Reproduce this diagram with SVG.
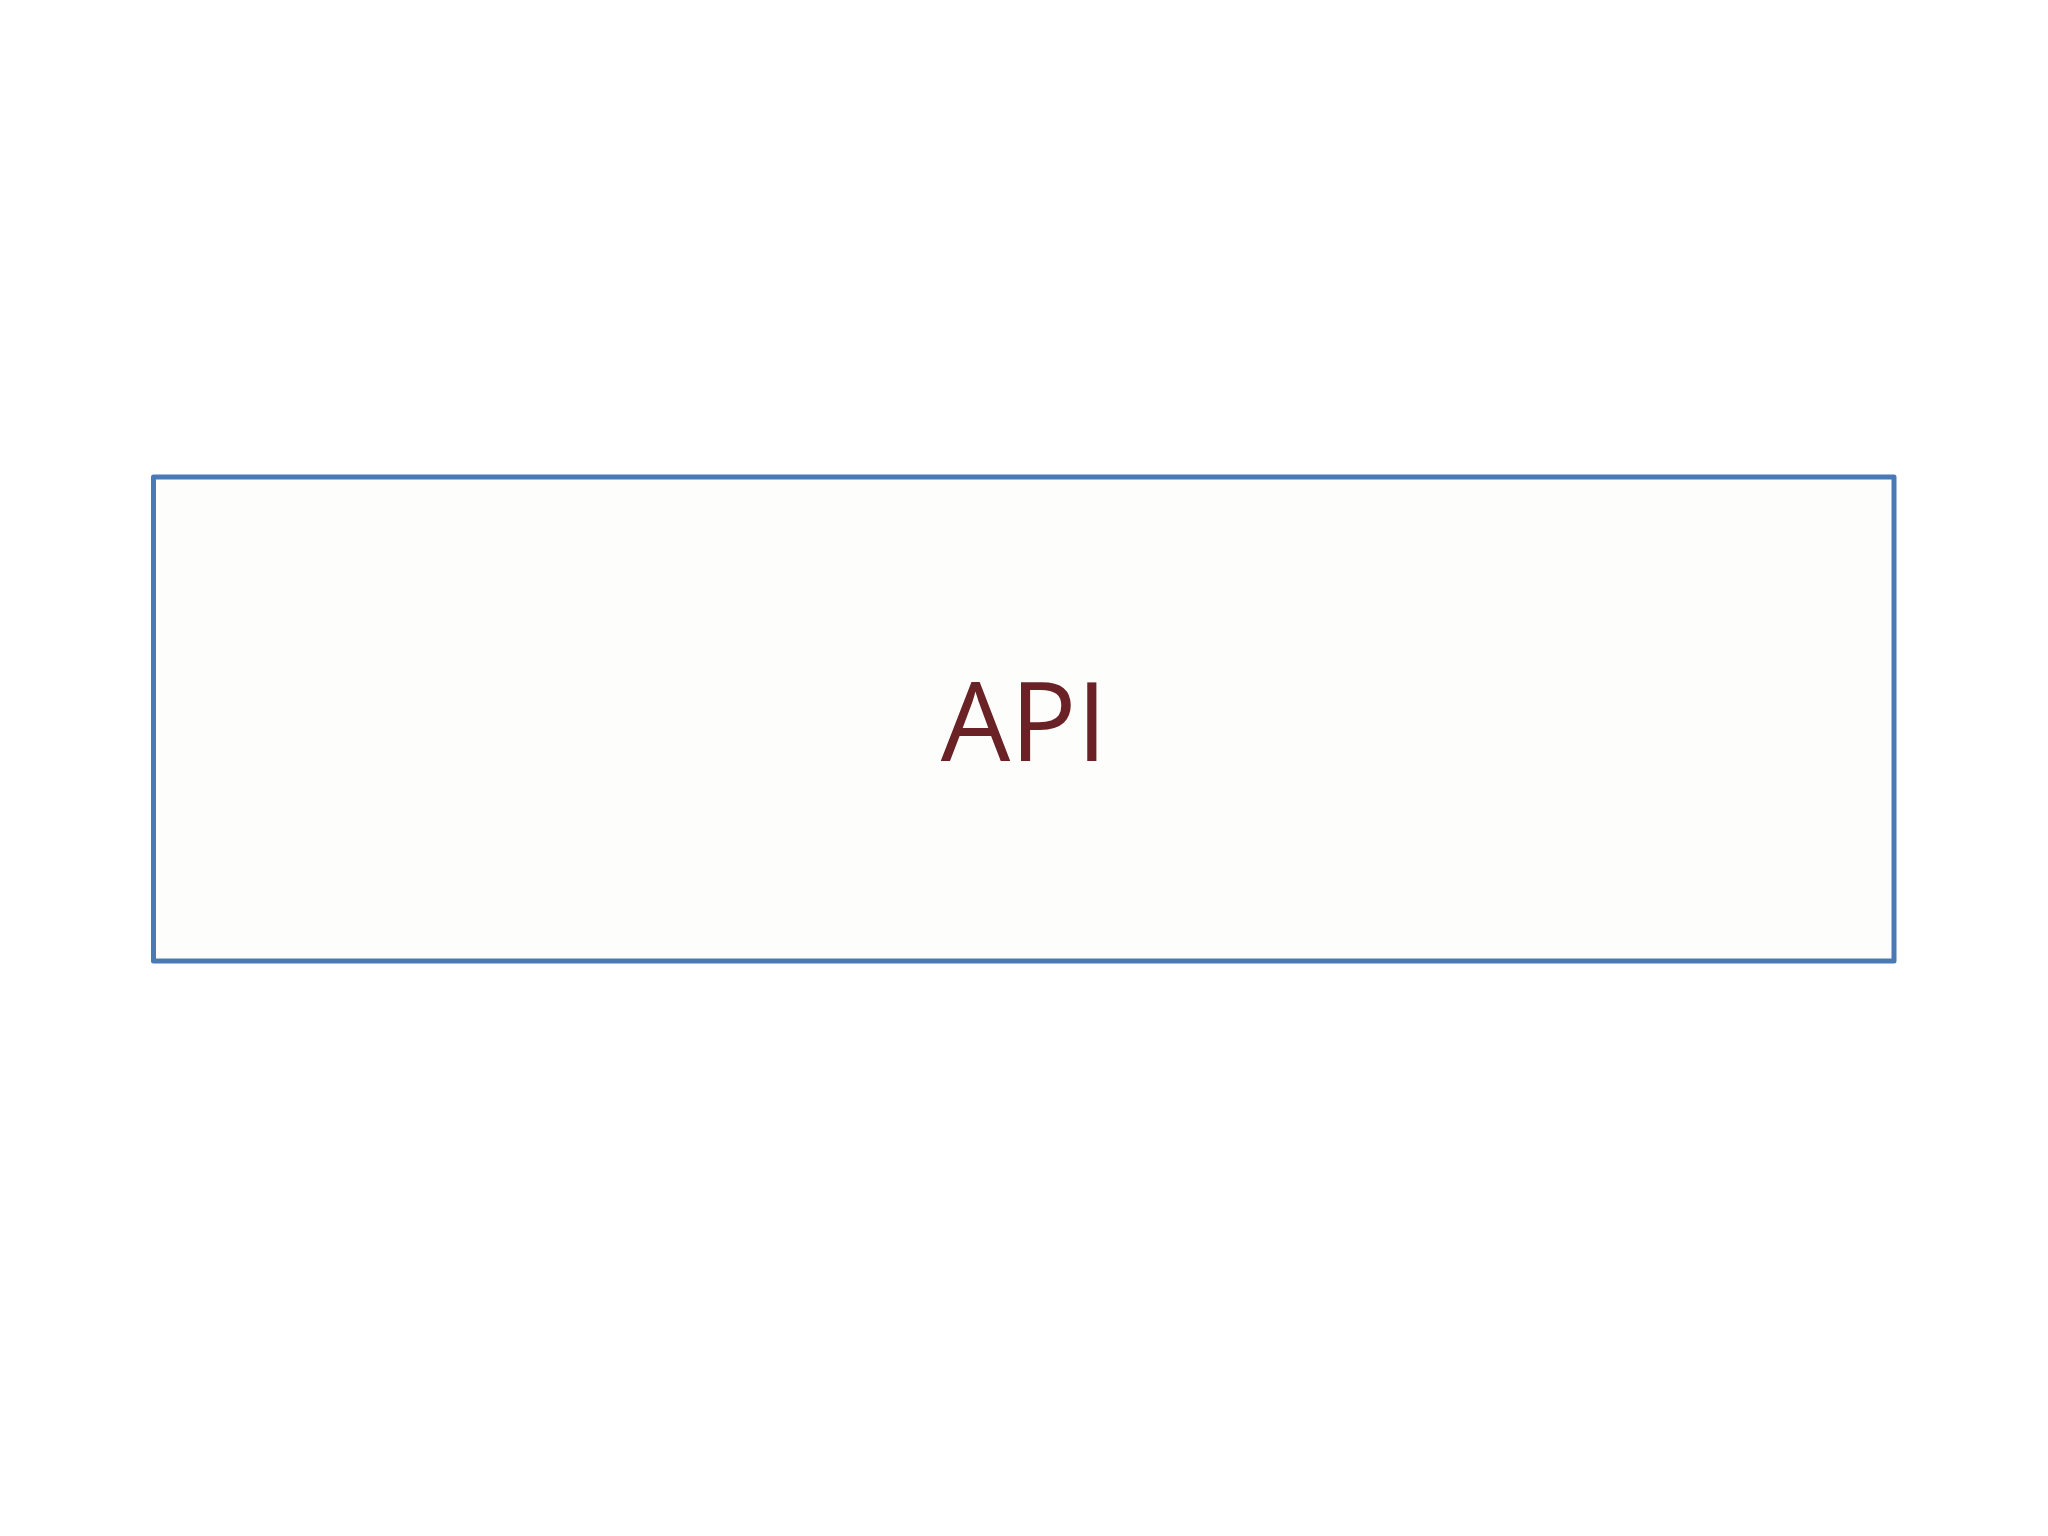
<svg xmlns="http://www.w3.org/2000/svg" width="2048" height="1536" viewBox="0 0 2048 1536">
<style>
.box{fill:#fdfefc;stroke:#4a7ab5;stroke-width:5;stroke-linejoin:round}
.lbl{font-family:"Open Sans","Noto Sans",sans-serif;font-size:110px;fill:#6b2226;text-anchor:middle}
</style>
<rect width="2048" height="1536" fill="#ffffff"/>
<g id="api">
<rect class="box" x="153.5" y="477" width="1740.5" height="484"/>
<text class="lbl" x="1024" y="761">API</text>
</g>
<g id="connectors"></g>
</svg>
